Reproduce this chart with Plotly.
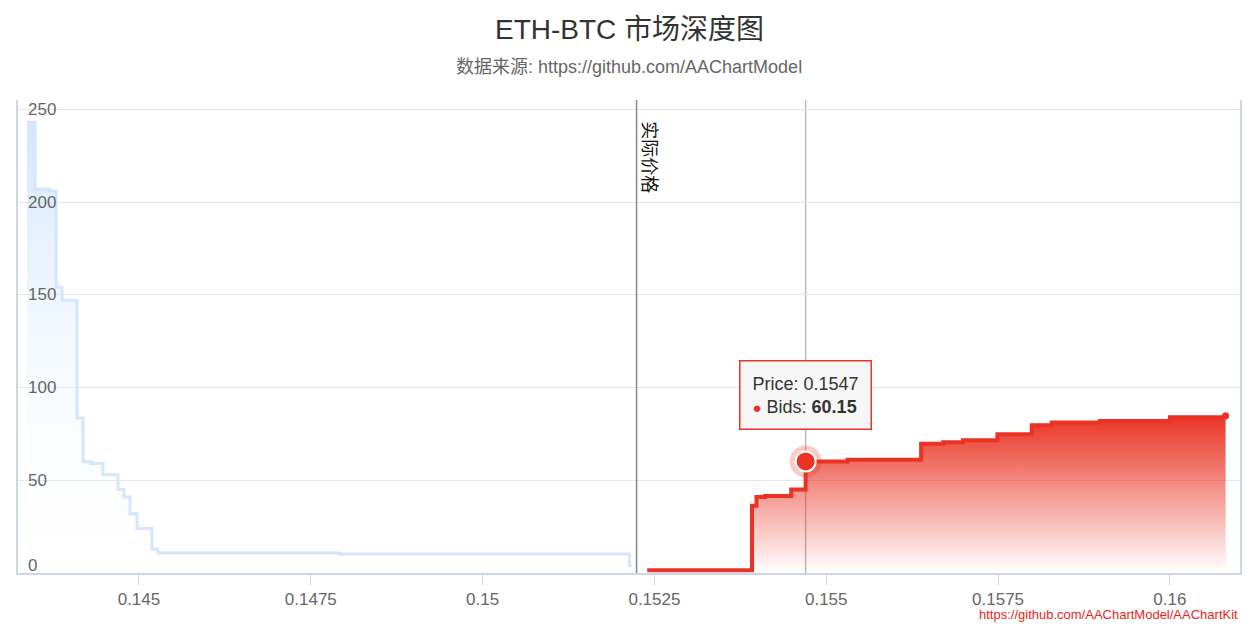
import plotly.graph_objects as go

ask_price = [0.143372, 0.143488, 0.143692, 0.143794, 0.143881, 0.144099, 0.144186, 0.144302,
             0.144477, 0.144695, 0.144782, 0.144869, 0.144971, 0.145189, 0.145276, 0.147922,
             0.152137, 0.152166]
ask_vol = [243, 207, 206, 154, 147, 83.5, 60, 59, 53, 45, 41, 32, 24, 13, 10.8, 10.2, 4, 4]

bid_price = [0.152395, 0.15392, 0.153985, 0.15411, 0.15449, 0.1547, 0.15531, 0.15638, 0.1567,
             0.15699, 0.15749, 0.15799, 0.15828, 0.15898, 0.16, 0.16081]
bid_vol = [1.5, 36.2, 41, 41.5, 45, 60.15, 61, 69.7, 70.5, 71.5, 74.8, 79.7, 81.2, 82, 83.9, 84.8]

actual_price = 0.15224
hover_price, hover_vol = 0.1547, 60.15
x_ticks = [0.145, 0.1475, 0.15, 0.1525, 0.155, 0.1575, 0.16]
y_ticks = [0, 50, 100, 150, 200, 250]
FONT = "Liberation Sans, Arial, Noto Sans CJK SC, sans-serif"

fig = go.Figure()
fig.add_trace(go.Scatter(
    x=ask_price, y=ask_vol, name="Asks", mode="lines", line_shape="hv",
    line=dict(color="#d3e6fb", width=3), fill="tozeroy",
    fillgradient=dict(type="vertical", colorscale=[[0, "rgba(255,255,255,0)"], [1, "rgba(180,215,250,0.6)"]]),
))
fig.add_trace(go.Scatter(
    x=bid_price, y=bid_vol, name="Bids", mode="lines", line_shape="hv",
    line=dict(color="#ea3324", width=4), fill="tozeroy",
    fillgradient=dict(type="vertical", colorscale=[[0, "rgba(234,51,36,0)"], [1, "rgba(234,51,36,1)"]]),
))
fig.add_trace(go.Scatter(x=[bid_price[-1]], y=[bid_vol[-1]], mode="markers",
                         marker=dict(color="#ea3324", size=7), hoverinfo="skip"))
fig.add_trace(go.Scatter(x=[hover_price], y=[hover_vol], mode="markers",
                         marker=dict(color="rgba(234,51,36,0.25)", size=32), hoverinfo="skip"))
fig.add_trace(go.Scatter(x=[hover_price], y=[hover_vol], mode="markers",
                         marker=dict(color="#ea3324", size=20, line=dict(color="white", width=2)), hoverinfo="skip"))

fig.add_shape(type="line", x0=hover_price, x1=hover_price, y0=0, y1=1, yref="paper",
              line=dict(color="#bbbbbb", width=1.5), layer="below")
fig.add_shape(type="line", x0=actual_price, x1=actual_price, y0=0, y1=1, yref="paper",
              line=dict(color="#888888", width=1.5))
fig.add_annotation(x=actual_price, y=0.96, yref="paper", text="实际价格", textangle=90,
                   showarrow=False, xanchor="left", yanchor="top", xshift=0,
                   font=dict(size=18, color="#111", family="Noto Sans CJK SC"))
fig.add_annotation(x=hover_price, y=hover_vol, ax=0, ay=-66, showarrow=True, arrowcolor="rgba(0,0,0,0)",
                   text="Price: 0.1547<br><span style='color:#ea3324;font-size:15px'>●</span> Bids: <b>60.15</b>",
                   align="left", bgcolor="rgba(247,247,247,0.95)", bordercolor="#ea3324", borderwidth=1.5,
                   borderpad=12, font=dict(size=18, color="#333", family=FONT))
for v in y_ticks:
    fig.add_annotation(x=0, xref="paper", y=v, text=str(v), showarrow=False, xanchor="left",
                       xshift=8, yshift=8 if v == 0 else 0, font=dict(size=17, color="#666", family=FONT))
fig.add_annotation(x=1, y=-0.088, xref="paper", yref="paper", xanchor="right", yanchor="middle",
                   text="https://github.com/AAChartModel/AAChartKit", showarrow=False,
                   font=dict(size=13, color="#e8251c", family=FONT))
fig.add_annotation(x=0.5, y=1.148, xref="paper", yref="paper", yanchor="middle", showarrow=False,
                   text="ETH-BTC 市场深度图", font=dict(size=28, color="#333", family=FONT))
fig.add_annotation(x=0.5, y=1.07, xref="paper", yref="paper", yanchor="middle", showarrow=False,
                   text="数据来源: https://github.com/AAChartModel", font=dict(size=18, color="#666", family=FONT))

fig.update_layout(
    width=1240, height=616, margin=dict(l=10, r=8, t=92, b=51, autoexpand=False),
    paper_bgcolor="white", plot_bgcolor="white", showlegend=False,
    font=dict(family=FONT, color="#666"),
)
fig.update_xaxes(range=[0.14324, 0.16102], tickvals=x_ticks, ticktext=[str(v) for v in x_ticks],
                 showgrid=False, showline=True, linecolor="#ccd6eb", linewidth=1.5,
                 ticks="outside", ticklen=10, tickcolor="#ccd6eb", tickfont=dict(size=17, color="#666"),
                 zeroline=False, automargin=False)
fig.update_yaxes(range=[0, 255], tickvals=y_ticks, showgrid=True, gridcolor="#e6e6e6",
                 showticklabels=False, automargin=False,
                 showline=True, linecolor="#ccd6eb", linewidth=1.5, mirror=True, zeroline=False)
fig.write_html("out.html")
